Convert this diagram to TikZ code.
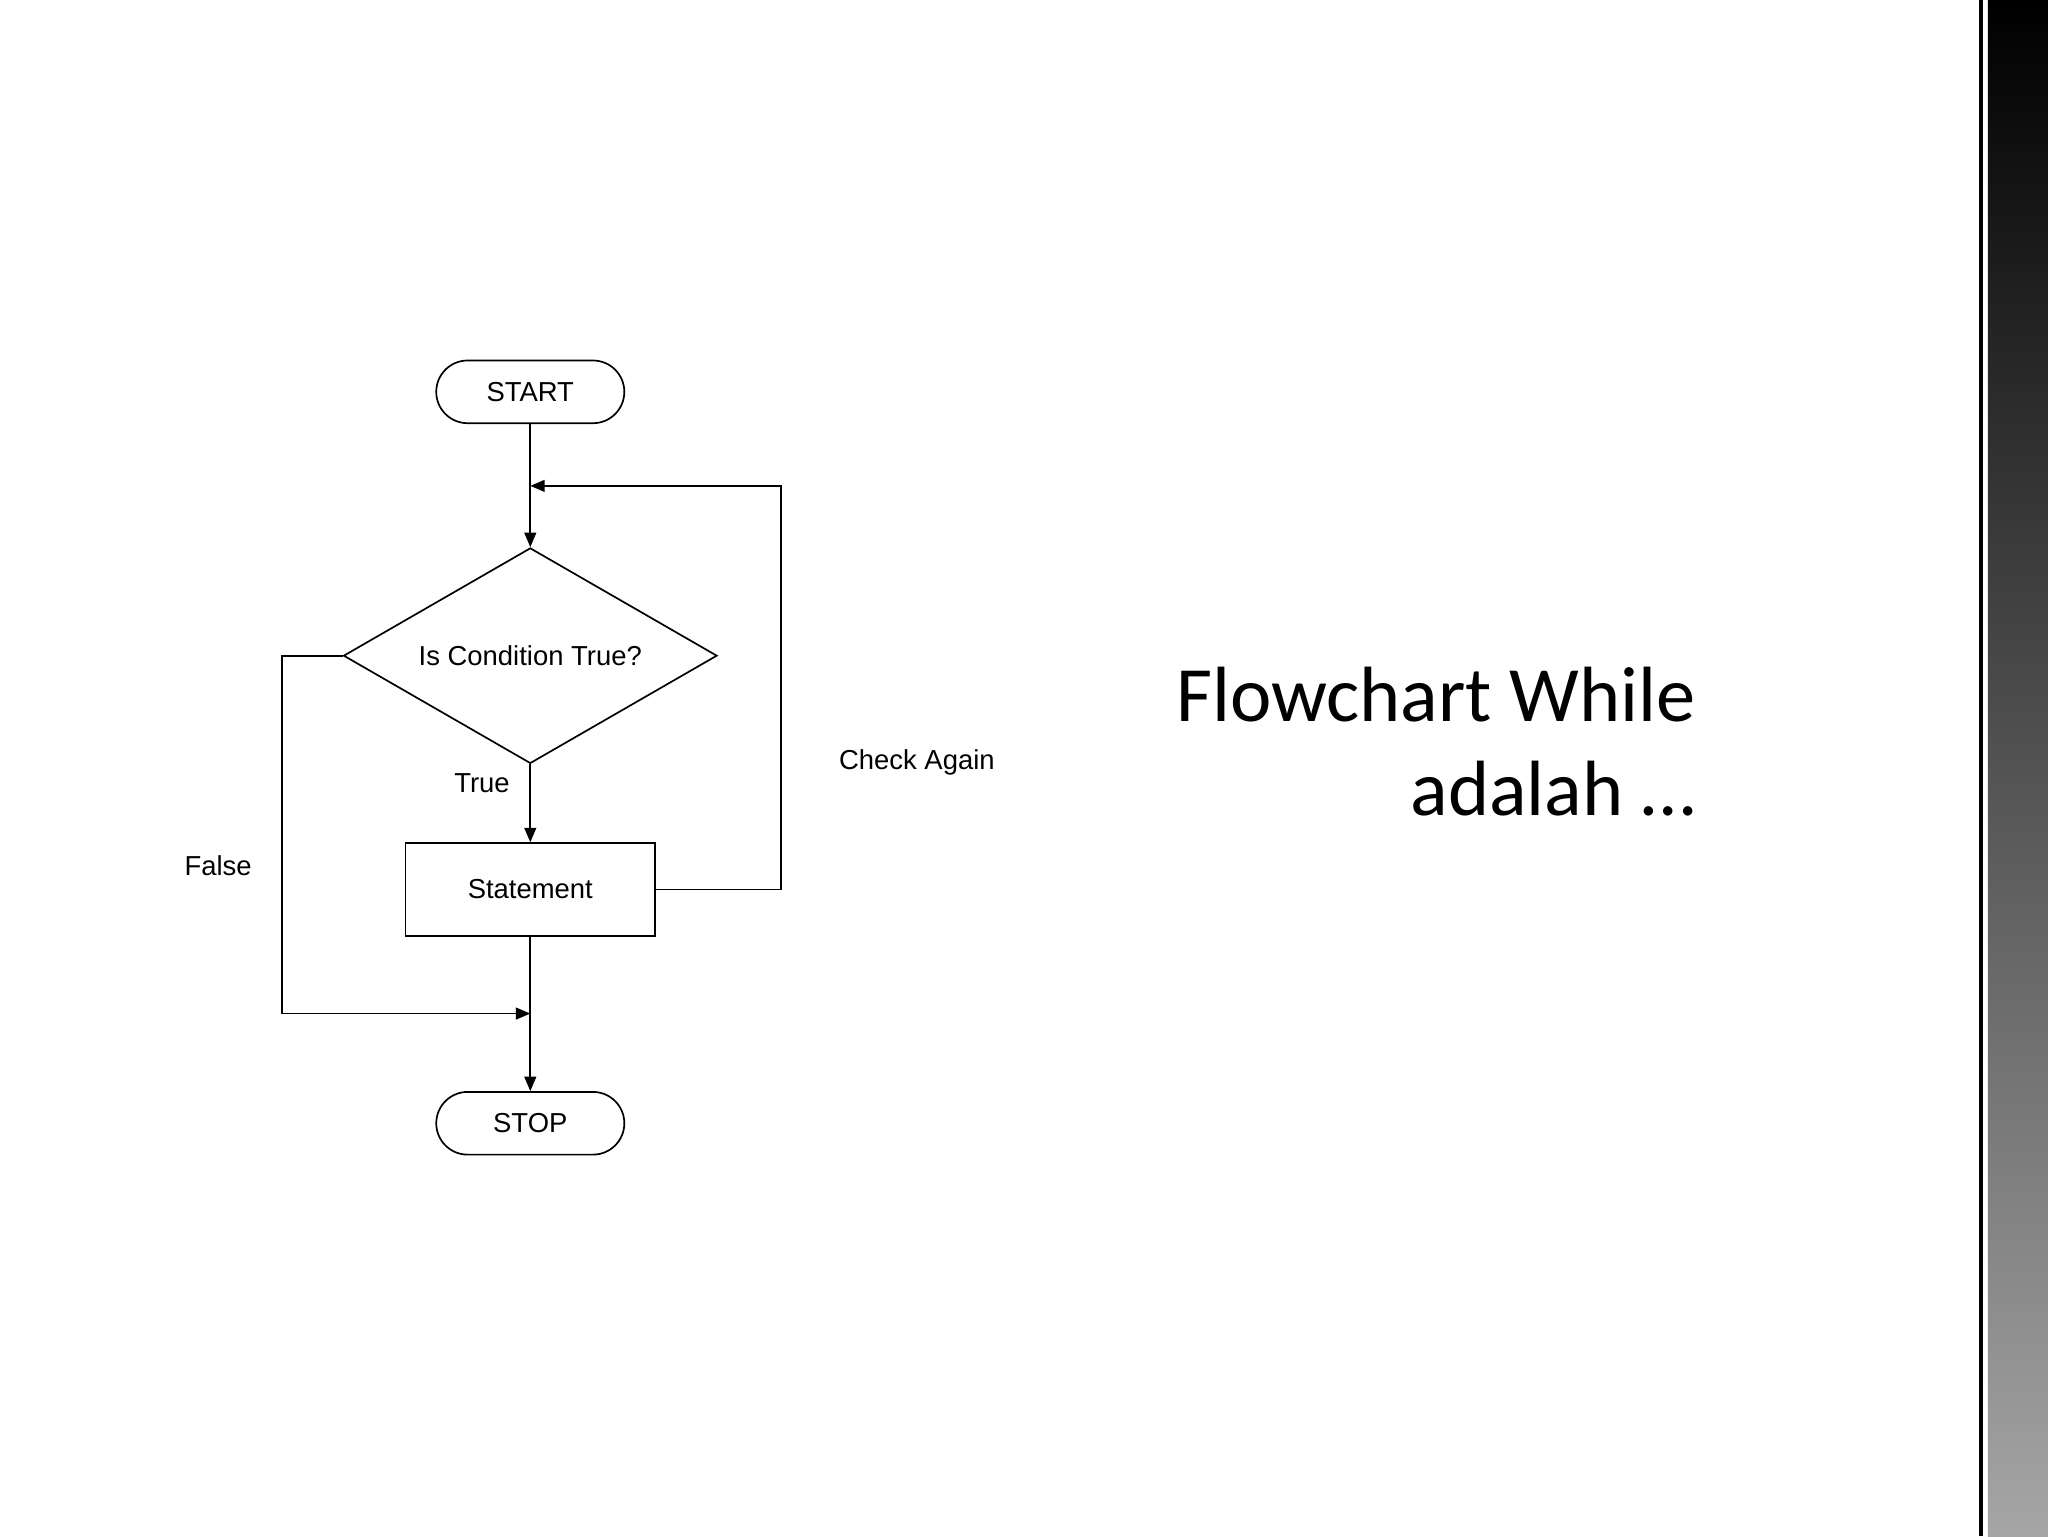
\documentclass[tikz,border=0pt]{standalone}
\usepackage{fontspec}
\setmainfont{Liberation Sans}
\newfontfamily\titlefont{Carlito}
\usetikzlibrary{shapes.geometric,arrows.meta}
\begin{document}
\begin{tikzpicture}[x=1pt,y={(0,-1pt)},
  line width=1.3pt,
  lbl/.style={font=\fontsize{21}{24}\selectfont},
  term/.style={draw,rounded corners=24pt,minimum width=144pt,minimum height=48pt,inner sep=0pt,lbl},
  arr/.style={-{Triangle[length=11pt,width=9pt]}}]
\useasboundingbox (0,0) rectangle (1568,1176);
\fill[white] (0,0) rectangle (1568,1176);
% right decorative strip
\shade[top color=black,bottom color=black!35] (1522,0) rectangle (1568,1176);
\fill[black] (1515,0) rectangle (1518,1176);
\node[term] (start) at (406,300) {START};
\node[draw,diamond,aspect=1.73,minimum width=286pt,minimum height=165pt,inner sep=0pt,lbl] (cond) at (406,502) {Is Condition True?};
\node[draw,minimum width=191pt,minimum height=71pt,lbl] (stmt) at (406,681) {Statement};
\node[term] (stop) at (406,860) {STOP};
\coordinate (j1) at (406,372);
\coordinate (j2) at (406,776);
\coordinate (r1) at (598,681);
\coordinate (r2) at (598,372);
\coordinate (l1) at (216,502);
\coordinate (l2) at (216,776);
\draw (start) -- (j1);
\draw[arr] (j1) -- (cond.north);
\draw[arr] (cond.south) -- (stmt.north);
\draw (stmt.south) -- (j2);
\draw[arr] (j2) -- (stop.north);
\draw[arr] (stmt.east) -- (r1) -- (r2) -- (j1);
\draw[arr] (cond.west) -- (l1) -- (l2) -- (j2);
\node[lbl] at (369,600) {True};
\node[lbl] at (702,584) {Check Again};
\node[lbl] at (167,663) {False};
\node[anchor=east,align=right,font=\titlefont\fontsize{60}{72}\selectfont] (title) at (1302,568) {Flowchart While\\adalah …};
\end{tikzpicture}
\end{document}
